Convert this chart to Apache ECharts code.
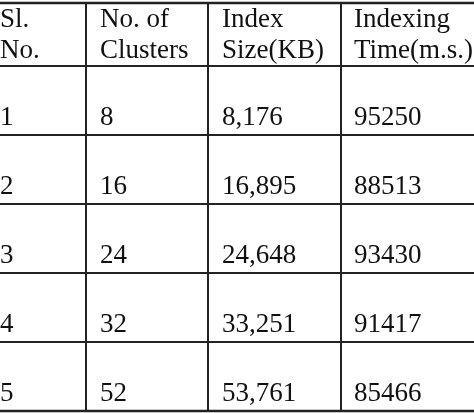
<!DOCTYPE html>
<html>
<head>
<meta charset="utf-8">
<script src="https://cdn.jsdelivr.net/npm/echarts@6/dist/echarts.min.js"></script>
<style>html,body{margin:0;padding:0;background:#fff}#main{width:474px;height:413px}</style>
</head>
<body>
<div id="main"></div>
<script>
var headers = [['Sl.', 'No.'], ['No. of', 'Clusters'], ['Index', 'Size(KB)'], ['Indexing', 'Time(m.s.)']];
var slNo = ['1', '2', '3', '4', '5'];
var clusters = ['8', '16', '24', '32', '52'];
var indexSize = ['8,176', '16,895', '24,648', '33,251', '53,761'];
var indexTime = ['95250', '88513', '93430', '91417', '85466'];

var colX = [0, 100, 222, 354];
var vLines = [86, 208, 341];
var hLines = [3, 66, 135, 204, 273, 342, 411];
var font = '27px "Liberation Serif", "DejaVu Serif", serif';

var els = [];
hLines.forEach(function(y, i) {
	els.push({type: 'line', shape: {x1: 0, y1: y, x2: 474, y2: y},
		style: {stroke: '#222', lineWidth: (i == 0 || i == hLines.length - 1) ? 2.5 : 2}});
});
vLines.forEach(function(x) {
	els.push({type: 'line', shape: {x1: x, y1: 3, x2: x, y2: 411}, style: {stroke: '#222', lineWidth: 2}});
});
headers.forEach(function(h, c) {
	h.forEach(function(t, k) {
		els.push({type: 'text', x: colX[c], y: 20 + k * 31,
			style: {text: t, font: font, fill: '#111', verticalAlign: 'middle'}});
	});
});
var cols = [slNo, clusters, indexSize, indexTime];
cols.forEach(function(col, c) {
	col.forEach(function(t, r) {
		els.push({type: 'text', x: colX[c], y: hLines[r + 2] - 17,
			style: {text: t, font: font, fill: '#111', verticalAlign: 'middle'}});
	});
});

var chart = echarts.init(document.getElementById('main'));
chart.setOption({animation: false, backgroundColor: '#fff', graphic: els});
</script>
</body>
</html>
